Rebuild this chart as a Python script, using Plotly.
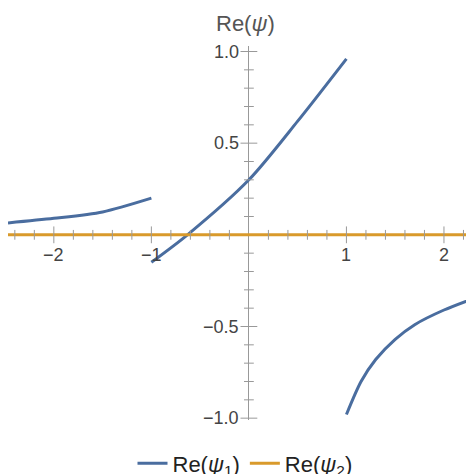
import plotly.graph_objects as go

left_x = [-2.47, -2.0, -1.5, -1.0]
left_y = [0.065, 0.09, 0.125, 0.2]
mid_x = [-1.0, -0.63, 0.0, 0.5, 1.0]
mid_y = [-0.15, 0.0, 0.3, 0.62, 0.96]
right_x = [1.0, 1.15, 1.3, 1.5, 1.7, 2.0, 2.39]
right_y = [-0.98, -0.80, -0.68, -0.57, -0.49, -0.41, -0.33]
psi2_x = [-2.47, 2.39]
psi2_y = [0.0, 0.0]
xticks = [-2, -1, 1, 2]
xlabels = ["−2", "−1", "1", "2"]
yticks = [-1.0, -0.5, 0.5, 1.0]
ylabels = ["−1.0", "−0.5", "0.5", "1.0"]
xminor = [-2.4, -2.2, -1.8, -1.6, -1.4, -1.2, -0.8, -0.6, -0.4, -0.2, 0.2, 0.4, 0.6, 0.8, 1.2, 1.4, 1.6, 1.8, 2.2]
yminor = [-0.9, -0.8, -0.7, -0.6, -0.4, -0.3, -0.2, -0.1, 0.1, 0.2, 0.3, 0.4, 0.6, 0.7, 0.8, 0.9]

blue = "#4a6d9f"
orange = "#d99a2b"
fig = go.Figure()
for i, (xs, ys) in enumerate([(left_x, left_y), (mid_x, mid_y), (right_x, right_y)]):
    fig.add_trace(go.Scatter(x=xs, y=ys, mode="lines", line=dict(color=blue, width=3, shape="spline", smoothing=0.8),
                             name="Re(<i>ψ</i><sub>1</sub>)", showlegend=(i == 0), legendgroup="a"))
fig.add_trace(go.Scatter(x=psi2_x, y=psi2_y, mode="lines", line=dict(color=orange, width=3), name="Re(<i>ψ</i><sub>2</sub>)"))
tick = dict(color="#999", width=1)
fig.add_trace(go.Scatter(x=xticks, y=[0]*len(xticks), mode="markers", marker=dict(symbol="line-ns", size=12, line=tick), showlegend=False, hoverinfo="skip"))
fig.add_trace(go.Scatter(x=xminor, y=[0]*len(xminor), mode="markers", marker=dict(symbol="line-ns", size=7, line=tick), showlegend=False, hoverinfo="skip"))
fig.add_trace(go.Scatter(x=[0]*len(yticks), y=yticks, mode="markers", marker=dict(symbol="line-ew", size=12, line=tick), showlegend=False, hoverinfo="skip"))
fig.add_trace(go.Scatter(x=[0]*len(yminor), y=yminor, mode="markers", marker=dict(symbol="line-ew", size=7, line=tick), showlegend=False, hoverinfo="skip"))

ann = []
for v, t in zip(xticks, xlabels):
    ann.append(dict(x=v, y=0, text=t, showarrow=False, yshift=-20, font=dict(size=18, color="#444")))
for v, t in zip(yticks, ylabels):
    ann.append(dict(x=0, y=v, text=t, showarrow=False, xanchor="right", xshift=-8, font=dict(size=18, color="#444")))
ann.append(dict(x=0.5, xref="paper", y=1.0, yref="paper", text="Re(<i>ψ</i>)", showarrow=False, yanchor="bottom", yshift=8, font=dict(size=22, color="#555")))

fig.update_layout(
    width=474, height=474, margin=dict(l=0, r=0, t=38, b=62, autoexpand=False),
    plot_bgcolor="white", paper_bgcolor="white",
    font=dict(family="Liberation Sans, Arial"),
    xaxis=dict(range=[-2.47, 2.39], showgrid=False, showticklabels=False, zeroline=True, zerolinecolor="#999", zerolinewidth=1, ticks=""),
    yaxis=dict(range=[-1.01, 1.03], showgrid=False, showticklabels=False, zeroline=True, zerolinecolor="#999", zerolinewidth=1, ticks=""),
    annotations=ann,
    legend=dict(orientation="h", x=0.5, xanchor="center", y=-0.06, yanchor="top", font=dict(size=22, color="#222")),
)
fig.write_html("out.html")
